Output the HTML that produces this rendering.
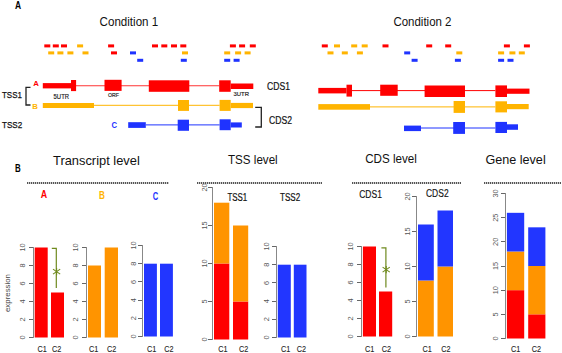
<!DOCTYPE html>
<html><head><meta charset="utf-8"><style>
html,body{margin:0;padding:0;background:#fff;width:562px;height:353px;overflow:hidden}
svg{display:block;font-family:"Liberation Sans", sans-serif}
</style></head><body>
<svg width="562" height="353" viewBox="0 0 562 353" font-family="Liberation Sans, sans-serif">
<text x="15.00" y="8.60" font-size="10.6" fill="#000" font-weight="bold" text-anchor="start" textLength="6.10" lengthAdjust="spacingAndGlyphs" >A</text>
<text x="99.60" y="25.50" font-size="12.2" fill="#111" font-weight="normal" text-anchor="start" textLength="58.60" lengthAdjust="spacingAndGlyphs" >Condition 1</text>
<text x="393.40" y="25.50" font-size="12.2" fill="#111" font-weight="normal" text-anchor="start" textLength="58.10" lengthAdjust="spacingAndGlyphs" >Condition 2</text>
<rect x="44.30" y="44.40" width="6.00" height="3.00" fill="#ff0000"/>
<rect x="52.80" y="44.40" width="6.00" height="3.00" fill="#ff0000"/>
<rect x="61.00" y="44.40" width="6.00" height="3.00" fill="#ff0000"/>
<rect x="108.10" y="44.40" width="6.00" height="3.00" fill="#ff0000"/>
<rect x="152.00" y="44.40" width="6.00" height="3.00" fill="#ff0000"/>
<rect x="161.30" y="44.40" width="6.00" height="3.00" fill="#ff0000"/>
<rect x="171.00" y="44.40" width="6.00" height="3.00" fill="#ff0000"/>
<rect x="180.30" y="44.40" width="6.00" height="3.00" fill="#ff0000"/>
<rect x="229.90" y="44.40" width="6.00" height="3.00" fill="#ff0000"/>
<rect x="239.10" y="44.40" width="6.00" height="3.00" fill="#ff0000"/>
<rect x="249.80" y="44.40" width="6.00" height="3.00" fill="#ff0000"/>
<rect x="321.80" y="44.40" width="6.00" height="3.00" fill="#ff0000"/>
<rect x="382.50" y="44.40" width="6.00" height="3.00" fill="#ff0000"/>
<rect x="426.20" y="44.40" width="6.00" height="3.00" fill="#ff0000"/>
<rect x="445.20" y="44.40" width="6.00" height="3.00" fill="#ff0000"/>
<rect x="503.90" y="44.40" width="6.00" height="3.00" fill="#ff0000"/>
<rect x="523.90" y="44.40" width="6.00" height="3.00" fill="#ff0000"/>
<rect x="77.10" y="44.40" width="6.00" height="3.00" fill="#ffb400"/>
<rect x="334.00" y="44.40" width="6.00" height="3.00" fill="#ffb400"/>
<rect x="351.20" y="44.40" width="6.00" height="3.00" fill="#ffb400"/>
<rect x="361.70" y="44.40" width="6.00" height="3.00" fill="#ffb400"/>
<rect x="48.20" y="51.40" width="6.00" height="3.00" fill="#ffb400"/>
<rect x="57.40" y="51.40" width="6.00" height="3.00" fill="#ffb400"/>
<rect x="67.40" y="51.40" width="6.00" height="3.00" fill="#ffb400"/>
<rect x="82.50" y="51.40" width="6.00" height="3.00" fill="#ffb400"/>
<rect x="182.00" y="51.40" width="6.00" height="3.00" fill="#ffb400"/>
<rect x="224.20" y="51.40" width="6.00" height="3.00" fill="#ffb400"/>
<rect x="235.10" y="51.40" width="6.00" height="3.00" fill="#ffb400"/>
<rect x="244.60" y="51.40" width="6.00" height="3.00" fill="#ffb400"/>
<rect x="327.50" y="51.40" width="6.00" height="3.00" fill="#ffb400"/>
<rect x="341.80" y="51.40" width="6.00" height="3.00" fill="#ffb400"/>
<rect x="356.90" y="51.40" width="6.00" height="3.00" fill="#ffb400"/>
<rect x="456.30" y="51.40" width="6.00" height="3.00" fill="#ffb400"/>
<rect x="498.10" y="51.40" width="6.00" height="3.00" fill="#ffb400"/>
<rect x="509.40" y="51.40" width="6.00" height="3.00" fill="#ffb400"/>
<rect x="518.80" y="51.40" width="6.00" height="3.00" fill="#ffb400"/>
<rect x="111.00" y="51.40" width="6.00" height="3.00" fill="#ff0000"/>
<rect x="130.00" y="51.40" width="6.00" height="3.00" fill="#1f33ff"/>
<rect x="404.20" y="51.40" width="6.00" height="3.00" fill="#1f33ff"/>
<rect x="137.20" y="58.80" width="6.00" height="3.00" fill="#1f33ff"/>
<rect x="180.80" y="58.80" width="6.00" height="3.00" fill="#1f33ff"/>
<rect x="224.20" y="58.80" width="6.00" height="3.00" fill="#1f33ff"/>
<rect x="233.60" y="58.80" width="6.00" height="3.00" fill="#1f33ff"/>
<rect x="411.60" y="58.80" width="6.00" height="3.00" fill="#1f33ff"/>
<rect x="454.90" y="58.80" width="6.00" height="3.00" fill="#1f33ff"/>
<rect x="498.10" y="58.80" width="6.00" height="3.00" fill="#1f33ff"/>
<rect x="507.50" y="58.80" width="6.00" height="3.00" fill="#1f33ff"/>
<line x1="76.00" y1="85.80" x2="219.20" y2="85.80" stroke="#ff0000" stroke-width="1.1" stroke-opacity="0.8"/>
<rect x="42.80" y="83.10" width="28.40" height="5.30" fill="#ff0000"/>
<rect x="71.00" y="80.00" width="5.10" height="11.10" fill="#ff0000"/>
<rect x="104.50" y="79.80" width="17.10" height="11.10" fill="#ff0000"/>
<rect x="148.80" y="80.30" width="40.50" height="11.50" fill="#ff0000"/>
<rect x="219.20" y="80.30" width="11.50" height="11.50" fill="#ff0000"/>
<rect x="230.70" y="83.50" width="22.60" height="5.50" fill="#ff0000"/>
<line x1="94.00" y1="105.30" x2="219.60" y2="105.30" stroke="#ffb400" stroke-width="1" />
<rect x="42.80" y="103.00" width="51.20" height="5.00" fill="#ffb400"/>
<rect x="178.00" y="100.00" width="11.00" height="10.90" fill="#ffb400"/>
<rect x="219.60" y="99.90" width="11.10" height="11.00" fill="#ffb400"/>
<rect x="230.70" y="102.90" width="22.30" height="5.20" fill="#ffb400"/>
<line x1="145.80" y1="124.90" x2="219.60" y2="124.90" stroke="#1f33ff" stroke-width="1" />
<rect x="128.20" y="122.20" width="17.60" height="5.70" fill="#1f33ff"/>
<rect x="177.70" y="119.70" width="11.30" height="11.10" fill="#1f33ff"/>
<rect x="219.60" y="119.30" width="11.10" height="10.90" fill="#1f33ff"/>
<rect x="230.70" y="122.40" width="11.10" height="5.10" fill="#1f33ff"/>
<text x="33.20" y="85.60" font-size="7.8" fill="#ff0000" font-weight="bold" text-anchor="start" >A</text>
<text x="32.20" y="109.20" font-size="7.8" fill="#ffb400" font-weight="bold" text-anchor="start" >B</text>
<text x="111.50" y="128.30" font-size="9.5" fill="#1f33ff" font-weight="bold" text-anchor="start" textLength="5.60" lengthAdjust="spacingAndGlyphs" >C</text>
<text x="2.00" y="98.00" font-size="9.8" fill="#111" font-weight="normal" text-anchor="start" textLength="19.90" lengthAdjust="spacingAndGlyphs" stroke="#111" stroke-width="0.25" >TSS1</text>
<text x="2.00" y="128.20" font-size="9.8" fill="#111" font-weight="normal" text-anchor="start" textLength="20.20" lengthAdjust="spacingAndGlyphs" stroke="#111" stroke-width="0.25" >TSS2</text>
<text x="267.00" y="90.20" font-size="10.4" fill="#111" font-weight="normal" text-anchor="start" textLength="23.00" lengthAdjust="spacingAndGlyphs" stroke="#111" stroke-width="0.2" >CDS1</text>
<text x="269.00" y="123.60" font-size="10.4" fill="#111" font-weight="normal" text-anchor="start" textLength="23.00" lengthAdjust="spacingAndGlyphs" stroke="#111" stroke-width="0.2" >CDS2</text>
<text x="53.60" y="98.50" font-size="6.8" fill="#222" font-weight="normal" text-anchor="start" textLength="15.40" lengthAdjust="spacingAndGlyphs" stroke="#222" stroke-width="0.18" >5UTR</text>
<text x="108.00" y="97.00" font-size="6" fill="#222" font-weight="normal" text-anchor="start" textLength="11.00" lengthAdjust="spacingAndGlyphs" stroke="#222" stroke-width="0.18" >ORF</text>
<text x="233.50" y="95.80" font-size="6.2" fill="#222" font-weight="normal" text-anchor="start" textLength="15.50" lengthAdjust="spacingAndGlyphs" stroke="#222" stroke-width="0.18" >3UTR</text>
<path d="M30.5,87.3 H26 V105 H30.5" fill="none" stroke="#222" stroke-width="1.3"/>
<path d="M255.2,107.4 H261.3 V127 H255.2" fill="none" stroke="#222" stroke-width="1.3"/>
<line x1="352.00" y1="90.60" x2="495.40" y2="90.60" stroke="#ff0000" stroke-width="1" />
<rect x="318.30" y="87.90" width="28.20" height="5.50" fill="#ff0000"/>
<rect x="346.50" y="84.70" width="5.50" height="11.90" fill="#ff0000"/>
<rect x="380.20" y="84.70" width="17.50" height="11.10" fill="#ff0000"/>
<rect x="424.60" y="85.50" width="40.40" height="11.50" fill="#ff0000"/>
<rect x="495.40" y="85.40" width="11.60" height="11.60" fill="#ff0000"/>
<rect x="507.00" y="88.60" width="22.50" height="5.20" fill="#ff0000"/>
<line x1="370.00" y1="106.90" x2="495.40" y2="106.90" stroke="#ffb400" stroke-width="1" />
<rect x="318.30" y="104.10" width="51.70" height="5.60" fill="#ffb400"/>
<rect x="453.60" y="101.00" width="11.40" height="11.90" fill="#ffb400"/>
<rect x="495.40" y="101.30" width="11.60" height="11.10" fill="#ffb400"/>
<rect x="507.00" y="104.00" width="21.70" height="5.20" fill="#ffb400"/>
<line x1="421.00" y1="128.00" x2="495.40" y2="128.00" stroke="#1f33ff" stroke-width="1" />
<rect x="404.00" y="125.60" width="17.00" height="5.50" fill="#1f33ff"/>
<rect x="453.20" y="122.00" width="11.80" height="11.90" fill="#1f33ff"/>
<rect x="495.40" y="121.90" width="11.60" height="11.10" fill="#1f33ff"/>
<rect x="507.00" y="124.30" width="11.00" height="5.50" fill="#1f33ff"/>
<text x="14.90" y="171.60" font-size="10.7" fill="#000" font-weight="bold" text-anchor="start" textLength="5.70" lengthAdjust="spacingAndGlyphs" >B</text>
<text x="53.00" y="165.40" font-size="12.6" fill="#111" font-weight="normal" text-anchor="start" textLength="86.80" lengthAdjust="spacingAndGlyphs" >Transcript level</text>
<text x="228.00" y="163.80" font-size="12.6" fill="#111" font-weight="normal" text-anchor="start" textLength="49.70" lengthAdjust="spacingAndGlyphs" >TSS level</text>
<text x="365.20" y="163.40" font-size="12.6" fill="#111" font-weight="normal" text-anchor="start" textLength="51.70" lengthAdjust="spacingAndGlyphs" >CDS level</text>
<text x="485.40" y="163.50" font-size="12.6" fill="#111" font-weight="normal" text-anchor="start" textLength="60.30" lengthAdjust="spacingAndGlyphs" >Gene level</text>
<line x1="27.00" y1="183.00" x2="169.00" y2="183.00" stroke="#cccccc" stroke-width="2" />
<line x1="27.00" y1="183.00" x2="169.00" y2="183.00" stroke="#555555" stroke-width="2" stroke-dasharray="1 1"/>
<line x1="197.00" y1="183.00" x2="322.00" y2="183.00" stroke="#cccccc" stroke-width="2" />
<line x1="197.00" y1="183.00" x2="322.00" y2="183.00" stroke="#555555" stroke-width="2" stroke-dasharray="1 1"/>
<line x1="352.00" y1="183.00" x2="461.00" y2="183.00" stroke="#cccccc" stroke-width="2" />
<line x1="352.00" y1="183.00" x2="461.00" y2="183.00" stroke="#555555" stroke-width="2" stroke-dasharray="1 1"/>
<line x1="484.00" y1="183.00" x2="561.00" y2="183.00" stroke="#cccccc" stroke-width="2" />
<line x1="484.00" y1="183.00" x2="561.00" y2="183.00" stroke="#555555" stroke-width="2" stroke-dasharray="1 1"/>
<text x="40.80" y="197.50" font-size="10" fill="#ff0000" font-weight="bold" text-anchor="start" textLength="6.40" lengthAdjust="spacingAndGlyphs" >A</text>
<text x="98.90" y="198.90" font-size="10" fill="#ffb400" font-weight="bold" text-anchor="start" textLength="5.90" lengthAdjust="spacingAndGlyphs" >B</text>
<text x="152.70" y="200.00" font-size="10" fill="#1f33ff" font-weight="bold" text-anchor="start" textLength="5.50" lengthAdjust="spacingAndGlyphs" >C</text>
<text x="227.40" y="200.50" font-size="10" fill="#111" font-weight="normal" text-anchor="start" textLength="19.80" lengthAdjust="spacingAndGlyphs" stroke="#111" stroke-width="0.2" >TSS1</text>
<text x="280.00" y="200.60" font-size="10" fill="#111" font-weight="normal" text-anchor="start" textLength="20.10" lengthAdjust="spacingAndGlyphs" stroke="#111" stroke-width="0.2" >TSS2</text>
<text x="359.20" y="198.40" font-size="10.4" fill="#111" font-weight="normal" text-anchor="start" textLength="22.70" lengthAdjust="spacingAndGlyphs" stroke="#111" stroke-width="0.15" >CDS1</text>
<text x="426.00" y="196.90" font-size="10.4" fill="#111" font-weight="normal" text-anchor="start" textLength="22.60" lengthAdjust="spacingAndGlyphs" stroke="#111" stroke-width="0.15" >CDS2</text>
<rect x="33" y="247" width="1" height="91" fill="#888"/>
<rect x="29" y="337" width="4" height="1" fill="#666"/>
<text transform="translate(22.40,337.50) rotate(-90)" x="0" y="2.66" font-size="7.4" fill="#555" text-anchor="middle">0</text>
<rect x="29" y="319" width="4" height="1" fill="#666"/>
<text transform="translate(22.40,319.50) rotate(-90)" x="0" y="2.66" font-size="7.4" fill="#555" text-anchor="middle">2</text>
<rect x="29" y="301" width="4" height="1" fill="#666"/>
<text transform="translate(22.40,301.50) rotate(-90)" x="0" y="2.66" font-size="7.4" fill="#555" text-anchor="middle">4</text>
<rect x="29" y="283" width="4" height="1" fill="#666"/>
<text transform="translate(22.40,283.50) rotate(-90)" x="0" y="2.66" font-size="7.4" fill="#555" text-anchor="middle">6</text>
<rect x="29" y="265" width="4" height="1" fill="#666"/>
<text transform="translate(22.40,265.50) rotate(-90)" x="0" y="2.66" font-size="7.4" fill="#555" text-anchor="middle">8</text>
<rect x="29" y="247" width="4" height="1" fill="#666"/>
<text transform="translate(22.40,247.50) rotate(-90)" x="0" y="2.66" font-size="7.4" fill="#555" text-anchor="middle">10</text>
<rect x="34.70" y="247.50" width="13.00" height="90.00" fill="#ff0000"/>
<text x="37.50" y="351.70" font-size="9" fill="#222" font-weight="normal" text-anchor="start" textLength="9.30" lengthAdjust="spacingAndGlyphs" stroke="#222" stroke-width="0.1" >C1</text>
<rect x="51.00" y="292.50" width="13.00" height="45.00" fill="#ff0000"/>
<text x="51.90" y="351.70" font-size="9" fill="#222" font-weight="normal" text-anchor="start" textLength="9.30" lengthAdjust="spacingAndGlyphs" stroke="#222" stroke-width="0.1" >C2</text>
<rect x="86" y="247" width="1" height="91" fill="#888"/>
<rect x="82" y="337" width="4" height="1" fill="#666"/>
<text transform="translate(75.30,337.50) rotate(-90)" x="0" y="2.66" font-size="7.4" fill="#555" text-anchor="middle">0</text>
<rect x="82" y="319" width="4" height="1" fill="#666"/>
<text transform="translate(75.30,319.50) rotate(-90)" x="0" y="2.66" font-size="7.4" fill="#555" text-anchor="middle">2</text>
<rect x="82" y="301" width="4" height="1" fill="#666"/>
<text transform="translate(75.30,301.50) rotate(-90)" x="0" y="2.66" font-size="7.4" fill="#555" text-anchor="middle">4</text>
<rect x="82" y="283" width="4" height="1" fill="#666"/>
<text transform="translate(75.30,283.50) rotate(-90)" x="0" y="2.66" font-size="7.4" fill="#555" text-anchor="middle">6</text>
<rect x="82" y="265" width="4" height="1" fill="#666"/>
<text transform="translate(75.30,265.50) rotate(-90)" x="0" y="2.66" font-size="7.4" fill="#555" text-anchor="middle">8</text>
<rect x="82" y="247" width="4" height="1" fill="#666"/>
<text transform="translate(75.30,247.50) rotate(-90)" x="0" y="2.66" font-size="7.4" fill="#555" text-anchor="middle">10</text>
<rect x="88.00" y="265.50" width="13.00" height="72.00" fill="#ff9400"/>
<text x="88.90" y="351.70" font-size="9" fill="#222" font-weight="normal" text-anchor="start" textLength="9.30" lengthAdjust="spacingAndGlyphs" stroke="#222" stroke-width="0.1" >C1</text>
<rect x="104.70" y="247.50" width="13.30" height="90.00" fill="#ff9400"/>
<text x="107.00" y="351.70" font-size="9" fill="#222" font-weight="normal" text-anchor="start" textLength="9.30" lengthAdjust="spacingAndGlyphs" stroke="#222" stroke-width="0.1" >C2</text>
<rect x="142" y="245" width="1" height="92" fill="#888"/>
<rect x="138" y="336" width="4" height="1" fill="#666"/>
<text transform="translate(133.30,336.50) rotate(-90)" x="0" y="2.66" font-size="7.4" fill="#555" text-anchor="middle">0</text>
<rect x="138" y="318" width="4" height="1" fill="#666"/>
<text transform="translate(133.30,318.30) rotate(-90)" x="0" y="2.66" font-size="7.4" fill="#555" text-anchor="middle">2</text>
<rect x="138" y="300" width="4" height="1" fill="#666"/>
<text transform="translate(133.30,300.10) rotate(-90)" x="0" y="2.66" font-size="7.4" fill="#555" text-anchor="middle">4</text>
<rect x="138" y="281" width="4" height="1" fill="#666"/>
<text transform="translate(133.30,281.90) rotate(-90)" x="0" y="2.66" font-size="7.4" fill="#555" text-anchor="middle">6</text>
<rect x="138" y="263" width="4" height="1" fill="#666"/>
<text transform="translate(133.30,263.70) rotate(-90)" x="0" y="2.66" font-size="7.4" fill="#555" text-anchor="middle">8</text>
<rect x="138" y="245" width="4" height="1" fill="#666"/>
<text transform="translate(133.30,245.50) rotate(-90)" x="0" y="2.66" font-size="7.4" fill="#555" text-anchor="middle">10</text>
<rect x="144.00" y="263.70" width="12.90" height="72.80" fill="#2236ff"/>
<text x="146.90" y="351.70" font-size="9" fill="#222" font-weight="normal" text-anchor="start" textLength="9.30" lengthAdjust="spacingAndGlyphs" stroke="#222" stroke-width="0.1" >C1</text>
<rect x="160.00" y="263.70" width="12.90" height="72.80" fill="#2236ff"/>
<text x="164.30" y="351.70" font-size="9" fill="#222" font-weight="normal" text-anchor="start" textLength="9.30" lengthAdjust="spacingAndGlyphs" stroke="#222" stroke-width="0.1" >C2</text>
<rect x="212" y="187" width="1" height="153" fill="#888"/>
<rect x="208" y="339" width="4" height="1" fill="#666"/>
<text transform="translate(204.50,339.50) rotate(-90)" x="0" y="2.66" font-size="7.4" fill="#555" text-anchor="middle">0</text>
<rect x="208" y="301" width="4" height="1" fill="#666"/>
<text transform="translate(204.50,301.50) rotate(-90)" x="0" y="2.66" font-size="7.4" fill="#555" text-anchor="middle">5</text>
<rect x="208" y="263" width="4" height="1" fill="#666"/>
<text transform="translate(204.50,263.50) rotate(-90)" x="0" y="2.66" font-size="7.4" fill="#555" text-anchor="middle">10</text>
<rect x="208" y="225" width="4" height="1" fill="#666"/>
<text transform="translate(204.50,225.50) rotate(-90)" x="0" y="2.66" font-size="7.4" fill="#555" text-anchor="middle">15</text>
<rect x="208" y="187" width="4" height="1" fill="#666"/>
<text transform="translate(204.50,187.50) rotate(-90)" x="0" y="2.66" font-size="7.4" fill="#555" text-anchor="middle">20</text>
<rect x="214.00" y="263.50" width="15.30" height="76.00" fill="#ff0000"/>
<rect x="214.00" y="202.70" width="15.30" height="60.80" fill="#ff9400"/>
<text x="218.30" y="351.70" font-size="9" fill="#222" font-weight="normal" text-anchor="start" textLength="9.30" lengthAdjust="spacingAndGlyphs" stroke="#222" stroke-width="0.1" >C1</text>
<rect x="233.00" y="301.50" width="15.20" height="38.00" fill="#ff0000"/>
<rect x="233.00" y="225.50" width="15.20" height="76.00" fill="#ff9400"/>
<text x="239.00" y="351.70" font-size="9" fill="#222" font-weight="normal" text-anchor="start" textLength="9.30" lengthAdjust="spacingAndGlyphs" stroke="#222" stroke-width="0.1" >C2</text>
<rect x="276" y="246" width="1" height="92" fill="#888"/>
<rect x="272" y="337" width="4" height="1" fill="#666"/>
<text transform="translate(266.00,337.50) rotate(-90)" x="0" y="2.66" font-size="7.4" fill="#555" text-anchor="middle">0</text>
<rect x="272" y="319" width="4" height="1" fill="#666"/>
<text transform="translate(266.00,319.30) rotate(-90)" x="0" y="2.66" font-size="7.4" fill="#555" text-anchor="middle">2</text>
<rect x="272" y="301" width="4" height="1" fill="#666"/>
<text transform="translate(266.00,301.10) rotate(-90)" x="0" y="2.66" font-size="7.4" fill="#555" text-anchor="middle">4</text>
<rect x="272" y="282" width="4" height="1" fill="#666"/>
<text transform="translate(266.00,282.90) rotate(-90)" x="0" y="2.66" font-size="7.4" fill="#555" text-anchor="middle">6</text>
<rect x="272" y="264" width="4" height="1" fill="#666"/>
<text transform="translate(266.00,264.70) rotate(-90)" x="0" y="2.66" font-size="7.4" fill="#555" text-anchor="middle">8</text>
<rect x="272" y="246" width="4" height="1" fill="#666"/>
<text transform="translate(266.00,246.50) rotate(-90)" x="0" y="2.66" font-size="7.4" fill="#555" text-anchor="middle">10</text>
<rect x="277.80" y="264.70" width="13.00" height="72.80" fill="#2236ff"/>
<text x="281.00" y="351.70" font-size="9" fill="#222" font-weight="normal" text-anchor="start" textLength="9.30" lengthAdjust="spacingAndGlyphs" stroke="#222" stroke-width="0.1" >C1</text>
<rect x="293.80" y="264.70" width="12.70" height="72.80" fill="#2236ff"/>
<text x="296.70" y="351.70" font-size="9" fill="#222" font-weight="normal" text-anchor="start" textLength="9.30" lengthAdjust="spacingAndGlyphs" stroke="#222" stroke-width="0.1" >C2</text>
<rect x="361" y="246" width="1" height="91" fill="#888"/>
<rect x="357" y="336" width="4" height="1" fill="#666"/>
<text transform="translate(350.50,336.50) rotate(-90)" x="0" y="2.66" font-size="7.4" fill="#555" text-anchor="middle">0</text>
<rect x="357" y="318" width="4" height="1" fill="#666"/>
<text transform="translate(350.50,318.50) rotate(-90)" x="0" y="2.66" font-size="7.4" fill="#555" text-anchor="middle">2</text>
<rect x="357" y="300" width="4" height="1" fill="#666"/>
<text transform="translate(350.50,300.50) rotate(-90)" x="0" y="2.66" font-size="7.4" fill="#555" text-anchor="middle">4</text>
<rect x="357" y="282" width="4" height="1" fill="#666"/>
<text transform="translate(350.50,282.50) rotate(-90)" x="0" y="2.66" font-size="7.4" fill="#555" text-anchor="middle">6</text>
<rect x="357" y="264" width="4" height="1" fill="#666"/>
<text transform="translate(350.50,264.50) rotate(-90)" x="0" y="2.66" font-size="7.4" fill="#555" text-anchor="middle">8</text>
<rect x="357" y="246" width="4" height="1" fill="#666"/>
<text transform="translate(350.50,246.50) rotate(-90)" x="0" y="2.66" font-size="7.4" fill="#555" text-anchor="middle">10</text>
<rect x="362.90" y="246.50" width="13.10" height="90.00" fill="#ff0000"/>
<text x="364.90" y="351.70" font-size="9" fill="#222" font-weight="normal" text-anchor="start" textLength="9.30" lengthAdjust="spacingAndGlyphs" stroke="#222" stroke-width="0.1" >C1</text>
<rect x="379.00" y="291.50" width="13.20" height="45.00" fill="#ff0000"/>
<text x="381.70" y="351.70" font-size="9" fill="#222" font-weight="normal" text-anchor="start" textLength="9.30" lengthAdjust="spacingAndGlyphs" stroke="#222" stroke-width="0.1" >C2</text>
<rect x="416" y="196" width="1" height="141" fill="#888"/>
<rect x="412" y="336" width="4" height="1" fill="#666"/>
<text transform="translate(407.50,336.50) rotate(-90)" x="0" y="2.66" font-size="7.4" fill="#555" text-anchor="middle">0</text>
<rect x="412" y="301" width="4" height="1" fill="#666"/>
<text transform="translate(407.50,301.50) rotate(-90)" x="0" y="2.66" font-size="7.4" fill="#555" text-anchor="middle">5</text>
<rect x="412" y="266" width="4" height="1" fill="#666"/>
<text transform="translate(407.50,266.50) rotate(-90)" x="0" y="2.66" font-size="7.4" fill="#555" text-anchor="middle">10</text>
<rect x="412" y="231" width="4" height="1" fill="#666"/>
<text transform="translate(407.50,231.50) rotate(-90)" x="0" y="2.66" font-size="7.4" fill="#555" text-anchor="middle">15</text>
<rect x="412" y="196" width="4" height="1" fill="#666"/>
<text transform="translate(407.50,196.50) rotate(-90)" x="0" y="2.66" font-size="7.4" fill="#555" text-anchor="middle">20</text>
<rect x="418.00" y="280.50" width="15.80" height="56.00" fill="#ff9400"/>
<rect x="418.00" y="224.50" width="15.80" height="56.00" fill="#2236ff"/>
<text x="422.40" y="351.70" font-size="9" fill="#222" font-weight="normal" text-anchor="start" textLength="9.30" lengthAdjust="spacingAndGlyphs" stroke="#222" stroke-width="0.1" >C1</text>
<rect x="437.50" y="266.50" width="15.50" height="70.00" fill="#ff9400"/>
<rect x="437.50" y="210.50" width="15.50" height="56.00" fill="#2236ff"/>
<text x="441.20" y="351.70" font-size="9" fill="#222" font-weight="normal" text-anchor="start" textLength="9.30" lengthAdjust="spacingAndGlyphs" stroke="#222" stroke-width="0.1" >C2</text>
<rect x="505" y="193" width="1" height="146" fill="#888"/>
<rect x="501" y="338" width="4" height="1" fill="#666"/>
<text transform="translate(495.50,338.50) rotate(-90)" x="0" y="2.66" font-size="7.4" fill="#555" text-anchor="middle">0</text>
<rect x="501" y="314" width="4" height="1" fill="#666"/>
<text transform="translate(495.50,314.33) rotate(-90)" x="0" y="2.66" font-size="7.4" fill="#555" text-anchor="middle">5</text>
<rect x="501" y="290" width="4" height="1" fill="#666"/>
<text transform="translate(495.50,290.17) rotate(-90)" x="0" y="2.66" font-size="7.4" fill="#555" text-anchor="middle">10</text>
<rect x="501" y="266" width="4" height="1" fill="#666"/>
<text transform="translate(495.50,266.00) rotate(-90)" x="0" y="2.66" font-size="7.4" fill="#555" text-anchor="middle">15</text>
<rect x="501" y="241" width="4" height="1" fill="#666"/>
<text transform="translate(495.50,241.83) rotate(-90)" x="0" y="2.66" font-size="7.4" fill="#555" text-anchor="middle">20</text>
<rect x="501" y="217" width="4" height="1" fill="#666"/>
<text transform="translate(495.50,217.67) rotate(-90)" x="0" y="2.66" font-size="7.4" fill="#555" text-anchor="middle">25</text>
<rect x="501" y="193" width="4" height="1" fill="#666"/>
<text transform="translate(495.50,193.50) rotate(-90)" x="0" y="2.66" font-size="7.4" fill="#555" text-anchor="middle">30</text>
<rect x="506.90" y="290.17" width="17.30" height="48.33" fill="#ff0000"/>
<rect x="506.90" y="251.50" width="17.30" height="38.67" fill="#ff9400"/>
<rect x="506.90" y="212.83" width="17.30" height="38.67" fill="#2236ff"/>
<text x="511.00" y="351.70" font-size="9" fill="#222" font-weight="normal" text-anchor="start" textLength="9.30" lengthAdjust="spacingAndGlyphs" stroke="#222" stroke-width="0.1" >C1</text>
<rect x="528.20" y="314.33" width="17.20" height="24.17" fill="#ff0000"/>
<rect x="528.20" y="266.00" width="17.20" height="48.33" fill="#ff9400"/>
<rect x="528.20" y="227.33" width="17.20" height="38.67" fill="#2236ff"/>
<text x="531.70" y="351.70" font-size="9" fill="#222" font-weight="normal" text-anchor="start" textLength="9.30" lengthAdjust="spacingAndGlyphs" stroke="#222" stroke-width="0.1" >C2</text>
<text transform="translate(7.30,293.00) rotate(-90)" x="0" y="2.52" font-size="7" fill="#444" text-anchor="middle" textLength="38.00" lengthAdjust="spacingAndGlyphs">expression</text>
<path d="M51.8,248.3 H56.3 V288.1" fill="none" stroke="#6f8a1e" stroke-width="1.2"/>
<path d="M53.0,269.08000000000004 L60.2,274.12 M53.0,274.12 L60.2,269.08000000000004 M56.6,268.0 V275.20000000000005" stroke="#6f8a1e" stroke-width="1.1" fill="none"/>
<path d="M381.4,247.8 H385.9 V287.5" fill="none" stroke="#6f8a1e" stroke-width="1.2"/>
<path d="M382.59999999999997,267.08000000000004 L389.8,272.12 M382.59999999999997,272.12 L389.8,267.08000000000004 M386.2,266.0 V273.20000000000005" stroke="#6f8a1e" stroke-width="1.1" fill="none"/>
</svg>
</body></html>
